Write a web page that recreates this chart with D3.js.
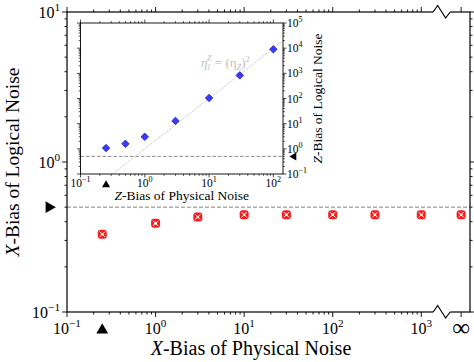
<!DOCTYPE html>
<html><head><meta charset="utf-8">
<script src="https://cdn.jsdelivr.net/npm/d3@7"></script>
<style>body{margin:0;background:#fff}svg{display:block}text{font-family:"Liberation Serif","DejaVu Serif",serif;fill:#000}</style>
</head><body><svg id="c" width="474" height="362" font-family="Liberation Serif, DejaVu Serif, serif"></svg>
<script>
// ---- data ----
const xBiasPhysical = [0.25, 1, 3, 10, 30, 100, 300, 1000, Infinity];
const xBiasLogical  = [0.33, 0.39, 0.43, 0.445, 0.445, 0.445, 0.445, 0.445, 0.445];
const zBiasPhysical = [0.25, 0.5, 1, 3, 10, 30, 100];
const zBiasLogical  = [1.07, 1.58, 3.0, 12.9, 105, 830, 9000];
const referenceBias = 0.5;      // dashed horizontal lines
const markerBias = 0.25;        // triangles on the x axes
const mainXDecades = [-1, 0, 1, 2, 3];
const mainYDecades = [-1, 0, 1];
const insetXDecades = [-1, 0, 1, 2];
const insetYDecades = [-1, 0, 1, 2, 3, 4, 5];
const infLabel = "\u221E";
const refLineLabel = ["\u03B7", "l", "Z", " = (\u03B7", "Z", ")", "2"];

// ---- layout ----
const svg = d3.select("#c");
const M = {l: 67, r: 470, t: 12, b: 312};
const I = {l: 80.5, r: 283, t: 23, b: 174};
const xMax = Math.pow(10, 3.55), xInf = Math.pow(10, 3.45), xBreak = Math.pow(10, 3.23);
const x = d3.scaleLog().domain([0.1, xMax]).range([M.l, M.r]);
const y = d3.scaleLog().domain([0.1, 10]).range([M.b, M.t]);
const xi = d3.scaleLog().domain([0.1, Math.pow(10, 2.15)]).range([I.l, I.r]);
const yi = d3.scaleLog().domain([0.1, 1e5]).range([I.b, I.t]);
const xPos = v => isFinite(v) ? x(v) : x(xInf);

function logTicks(decs, maxV) {
  const out = [];
  decs.forEach(d => { for (let k = 1; k <= 9; k++) { const v = k * Math.pow(10, d); if (v <= maxV * 1.0001) out.push({v, major: k === 1}); } });
  return out;
}
function supLabel(t, exp, fs) {
  t.append("tspan").text("10");
  t.append("tspan").attr("font-size", fs * 0.7).attr("dy", -fs * 0.42).text(exp.replace("-", "\u2212"));
}

// ---- main axes ----
const g = svg.append("g");
g.append("line").attr("x1", M.l).attr("x2", M.r).attr("y1", y(referenceBias)).attr("y2", y(referenceBias))
  .attr("stroke", "#808080").attr("stroke-width", 1).attr("stroke-dasharray", "4,2");

const mxT = logTicks(mainXDecades, 1000);
mxT.forEach(t => {
  const L = t.major ? 5 : 2.5;
  g.append("line").attr("x1", x(t.v)).attr("x2", x(t.v)).attr("y1", M.b).attr("y2", M.b + L).attr("stroke", "#000").attr("stroke-width", 0.9);
  g.append("line").attr("x1", x(t.v)).attr("x2", x(t.v)).attr("y1", M.t).attr("y2", M.t - L).attr("stroke", "#000").attr("stroke-width", 0.9);
});
[M.b, M.t].forEach((yy, i) => g.append("line").attr("x1", x(xInf)).attr("x2", x(xInf)).attr("y1", yy).attr("y2", i ? yy - 5 : yy + 5).attr("stroke", "#000").attr("stroke-width", 0.9));
const myT = logTicks(mainYDecades, 10);
myT.forEach(t => {
  const L = t.major ? 5 : 2.5;
  g.append("line").attr("x1", M.l).attr("x2", M.l - L).attr("y1", y(t.v)).attr("y2", y(t.v)).attr("stroke", "#000").attr("stroke-width", 0.9);
  g.append("line").attr("x1", M.r).attr("x2", M.r + L).attr("y1", y(t.v)).attr("y2", y(t.v)).attr("stroke", "#000").attr("stroke-width", 0.9);
});
g.append("rect").attr("x", M.l).attr("y", M.t).attr("width", M.r - M.l).attr("height", M.b - M.t)
  .attr("fill", "none").attr("stroke", "#000").attr("stroke-width", 1.2);
[M.t, M.b].forEach(yy => {
  const xb = x(xBreak);
  g.append("line").attr("x1", xb - 8.5).attr("x2", xb + 8.5).attr("y1", yy).attr("y2", yy).attr("stroke", "#fff").attr("stroke-width", 3);
  g.append("path").attr("d", `M${xb - 8.5},${yy} L${xb - 4},${yy - 6.5} L${xb + 4},${yy + 6} L${xb + 8.5},${yy}`)
    .attr("fill", "none").attr("stroke", "#000").attr("stroke-width", 1.2);
});
const fsM = 16;
mainXDecades.forEach(d => {
  const t = g.append("text").attr("x", x(Math.pow(10, d))).attr("y", 334).attr("text-anchor", "middle").attr("font-size", fsM);
  supLabel(t, String(d), fsM);
});
g.append("text").attr("x", x(xInf)).attr("y", 336).attr("text-anchor", "middle").attr("font-size", 25).text(infLabel);
mainYDecades.forEach(d => {
  const t = g.append("text").attr("x", 60).attr("y", y(Math.pow(10, d)) + 5.5).attr("text-anchor", "end").attr("font-size", fsM);
  supLabel(t, String(d), fsM);
});
const xl = g.append("text").attr("x", 251).attr("y", 355).attr("text-anchor", "middle").attr("font-size", 20);
xl.append("tspan").attr("font-style", "italic").text("X");
xl.append("tspan").text("-Bias of Physical Noise");
const yl = g.append("text").attr("transform", `translate(18.5,${(M.t + M.b) / 2}) rotate(-90)`).attr("text-anchor", "middle").attr("font-size", 19.5);
yl.append("tspan").attr("font-style", "italic").text("X");
yl.append("tspan").text("-Bias of Logical Noise");
const tri = d3.symbol().type(d3.symbolTriangle);
g.append("path").attr("d", tri.size(60)()).attr("transform", `translate(${x(markerBias)},330)`).attr("fill", "#000");
g.append("path").attr("d", tri.size(60)()).attr("transform", `translate(49,${y(referenceBias)}) rotate(90)`).attr("fill", "#000");

const red = g.append("g");
xBiasPhysical.forEach((v, i) => {
  const cx = xPos(v), cy = y(xBiasLogical[i]);
  const m = red.append("g").attr("transform", `translate(${cx},${cy})`);
  m.append("rect").attr("x", -4.5).attr("y", -4.5).attr("width", 9).attr("height", 9).attr("rx", 3).attr("fill", "#ff1a1a");
  m.append("path").attr("d", "M-2.6,-2.6L2.6,2.6M-2.6,2.6L2.6,-2.6").attr("stroke", "#fff").attr("stroke-width", 1);
  m.append("circle").attr("r", 1.3).attr("fill", "#fff");
});

// ---- inset ----
const ins = svg.append("g");
ins.append("rect").attr("x", I.l).attr("y", I.t).attr("width", I.r - I.l).attr("height", I.b - I.t).attr("fill", "#fff");
svg.append("clipPath").attr("id", "ic").append("rect").attr("x", I.l).attr("y", I.t).attr("width", I.r - I.l).attr("height", I.b - I.t);
ins.append("line").attr("x1", I.l).attr("x2", I.r).attr("y1", yi(referenceBias)).attr("y2", yi(referenceBias))
  .attr("stroke", "#808080").attr("stroke-width", 0.9).attr("stroke-dasharray", "3.5,2");
const refX = [0.1, Math.pow(10, 2.15)];
ins.append("path").attr("clip-path", "url(#ic)")
  .attr("d", d3.line().x(d => xi(d)).y(d => yi(d * d))(refX))
  .attr("fill", "none").attr("stroke", "#aaaaaa").attr("stroke-width", 0.8).attr("stroke-dasharray", "1,1");
const eq = ins.append("text").attr("x", 201).attr("y", 67).attr("font-size", 13).style("fill", "#c0c0c0");
eq.append("tspan").attr("font-style", "italic").text(refLineLabel[0]);
eq.append("tspan").attr("font-size", 8.5).attr("dy", 3).attr("font-style", "italic").text(refLineLabel[1]);
eq.append("tspan").attr("font-size", 8.5).attr("dx", -3).attr("dy", -9).attr("font-style", "italic").text(refLineLabel[2]);
eq.append("tspan").attr("dy", 6).text(refLineLabel[3]);
eq.append("tspan").attr("font-size", 8.5).attr("dy", 3).attr("font-style", "italic").text(refLineLabel[4]);
eq.append("tspan").attr("dy", -3).text(refLineLabel[5]);
eq.append("tspan").attr("font-size", 8.5).attr("dy", -5).text(refLineLabel[6]);

logTicks(insetXDecades, Math.pow(10, 2.15)).forEach(t => {
  const L = t.major ? 3.5 : 1.8;
  ins.append("line").attr("x1", xi(t.v)).attr("x2", xi(t.v)).attr("y1", I.b).attr("y2", I.b + L).attr("stroke", "#000").attr("stroke-width", 0.7);
  ins.append("line").attr("x1", xi(t.v)).attr("x2", xi(t.v)).attr("y1", I.t).attr("y2", I.t - L).attr("stroke", "#000").attr("stroke-width", 0.7);
});
logTicks(insetYDecades, 1e5).forEach(t => {
  const L = t.major ? 3.5 : 1.8;
  ins.append("line").attr("x1", I.l).attr("x2", I.l - L).attr("y1", yi(t.v)).attr("y2", yi(t.v)).attr("stroke", "#000").attr("stroke-width", 0.7);
  ins.append("line").attr("x1", I.r).attr("x2", I.r + L).attr("y1", yi(t.v)).attr("y2", yi(t.v)).attr("stroke", "#000").attr("stroke-width", 0.7);
});
ins.append("rect").attr("x", I.l).attr("y", I.t).attr("width", I.r - I.l).attr("height", I.b - I.t)
  .attr("fill", "none").attr("stroke", "#000").attr("stroke-width", 0.9);
const fsI = 11.5;
insetXDecades.forEach(d => {
  const t = ins.append("text").attr("x", xi(Math.pow(10, d))).attr("y", 187).attr("text-anchor", "middle").attr("font-size", fsI);
  supLabel(t, String(d), fsI);
});
insetYDecades.forEach(d => {
  const t = ins.append("text").attr("x", 287).attr("y", yi(Math.pow(10, d)) + 4).attr("font-size", fsI);
  supLabel(t, String(d), fsI);
});
const ixl = ins.append("text").attr("x", (I.l + I.r) / 2).attr("y", 200).attr("text-anchor", "middle").attr("font-size", 13.5);
ixl.append("tspan").attr("font-style", "italic").text("Z");
ixl.append("tspan").text("-Bias of Physical Noise");
const iyl = ins.append("text").attr("transform", `translate(322,${(I.t + I.b) / 2}) rotate(-90)`).attr("text-anchor", "middle").attr("font-size", 13.5);
iyl.append("tspan").attr("font-style", "italic").text("Z");
iyl.append("tspan").text("-Bias of Logical Noise");
ins.append("path").attr("d", tri.size(28)()).attr("transform", `translate(${xi(markerBias)},185)`).attr("fill", "#000");
ins.append("path").attr("d", tri.size(28)()).attr("transform", `translate(294,${yi(referenceBias)}) rotate(-90)`).attr("fill", "#000");
zBiasPhysical.forEach((v, i) => {
  ins.append("path").attr("d", d3.symbol().type(d3.symbolDiamond2).size(36)())
    .attr("transform", `translate(${xi(v)},${yi(zBiasLogical[i])})`)
    .attr("fill", "#3a3aff").attr("stroke", "#1010c0").attr("stroke-width", 0.7);
});
</script></body></html>
